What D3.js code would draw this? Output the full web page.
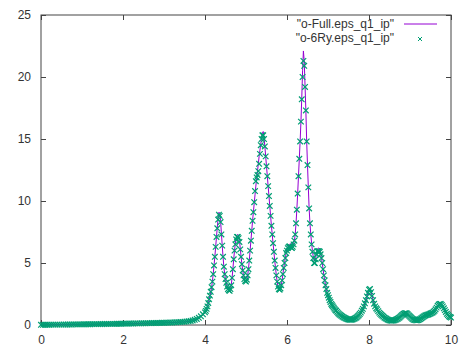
<!DOCTYPE html>
<html lang="en">
<head>
	<meta charset="UTF-8">
	<title>eps_q1_ip</title>
	<script src="https://cdn.jsdelivr.net/npm/d3@7"></script>
	<style>
		html, body{
			margin: 0;
			padding: 0;
			background: #fff;
		}
		svg{
			display: block;
		}
		.axis text, .legend text{
			font-family: "Liberation Sans", Arial, sans-serif;
			font-size: 12px;
			fill: #333;
		}
	</style>
</head>
<body>
	<div class="plot"></div>
	<script>
		// x grids: 0..3.95 step .05, 4.00..7.18 step .02, 7.200..10 step .025
		var grids = [
			{ start: 0, step: 0.05 },
			{ start: 4, step: 0.02 },
			{ start: 7.2, step: 0.025 }
		];

		var fullLow = [
			0.01,0.01,0.01,0.02,0.02,0.02,0.02,0.02,0.03,0.03,0.03,0.03,0.03,0.03,0.04,0.04,0.04,0.04,0.04,0.05,
			0.05,0.05,0.05,0.06,0.06,0.06,0.06,0.07,0.07,0.07,0.07,0.08,0.08,0.08,0.08,0.09,0.09,0.09,0.09,0.10,
			0.10,0.10,0.11,0.11,0.11,0.12,0.12,0.12,0.13,0.13,0.13,0.14,0.14,0.14,0.15,0.15,0.16,0.16,0.17,0.17,
			0.18,0.18,0.19,0.19,0.20,0.20,0.21,0.22,0.23,0.24,0.25,0.27,0.29,0.32,0.36,0.41,0.48,0.57,0.69,0.85
		];
		var fullMid = [
			1.00,1.12,1.28,1.48,1.75,2.05,2.35,2.65,3.0,3.5,
			4.1,4.8,5.5,6.3,7.1,7.9,8.6,9.1,9.0,8.4,
			7.4,6.4,5.5,4.7,4.1,3.7,3.4,3.1,2.9,2.75,
			2.7,2.85,3.2,3.8,4.5,5.3,6.0,6.6,7.0,7.25,
			7.3,7.2,6.8,6.2,5.5,4.9,4.4,4.0,3.7,3.5,
			3.5,3.65,4.0,4.5,5.2,6.0,6.8,7.6,8.4,9.1,
			9.8,10.5,11.2,11.8,12.4,13.0,13.6,14.1,14.6,15.1,
			15.5,15.6,15.1,14.4,13.6,12.8,12.0,11.2,10.4,9.6,
			8.8,8.0,7.3,6.6,5.9,5.2,4.6,4.0,3.5,3.1,
			2.9,2.85,2.95,3.2,3.6,4.1,4.6,5.0,5.4,5.8,
			6.1,6.3,6.45,6.5,6.55,6.5,6.45,6.5,6.6,6.8,
			7.3,8.2,9.3,10.6,12.0,13.4,14.8,16.4,18.3,20.5,
			22.1,21.3,19.3,17.3,14.8,12.9,11.1,9.4,8.2,7.3,
			6.6,6.0,5.5,5.2,5.2,5.4,5.8,6.05,6.2,6.2,
			6.1,5.8,5.4,5.0,4.5,4.0,3.6,3.2,2.9,2.6,
			2.4,2.2,2.0,1.85,1.7,1.6,1.5,1.4,1.3,1.2
		];
		var fullHigh = [
			1.15,1.05,0.95,0.87,0.8,0.74,0.68,0.63,0.58,0.54,0.5,0.47,0.45,0.43,0.42,0.43,
			0.45,0.48,0.52,0.57,0.62,0.7,0.78,0.88,1.0,1.15,1.3,1.5,1.75,2.0,2.3,2.6,
			2.9,2.95,2.7,2.35,2.0,1.72,1.5,1.35,1.25,1.12,1.0,0.9,0.82,0.75,0.68,0.6,0.55,0.5,
			0.45,0.41,0.38,0.36,0.35,0.36,0.37,0.39,0.42,0.46,0.5,0.56,0.62,0.7,0.78,0.85,0.92,0.96,0.98,0.93,
			0.85,0.76,0.68,0.6,0.52,0.46,0.42,0.4,0.38,0.38,0.4,0.44,0.48,0.54,0.6,0.66,0.72,0.77,0.8,0.82,
			0.85,0.88,0.92,0.96,1.0,1.07,1.15,1.27,1.4,1.55,1.7,1.76,1.75,1.65,1.5,1.35,1.2,1.05,0.9,0.8,
			0.7,0.65,0.6
		];

		var ryLow = [
			0.02,0.02,0.02,0.02,0.02,0.03,0.03,0.03,0.03,0.03,0.03,0.04,0.04,0.04,0.04,0.04,0.05,0.05,0.05,0.05,
			0.05,0.06,0.06,0.06,0.06,0.07,0.07,0.07,0.07,0.08,0.08,0.08,0.08,0.09,0.09,0.09,0.09,0.10,0.10,0.10,
			0.11,0.11,0.11,0.12,0.12,0.12,0.13,0.13,0.13,0.14,0.14,0.14,0.15,0.15,0.16,0.16,0.16,0.17,0.17,0.18,
			0.18,0.19,0.19,0.20,0.20,0.21,0.22,0.23,0.24,0.25,0.26,0.28,0.30,0.33,0.37,0.42,0.49,0.58,0.70,0.86
		];
		var ryMid = [
			1.02,1.14,1.30,1.50,1.77,2.07,2.37,2.68,3.05,3.5,
			4.1,4.8,5.5,6.3,7.1,7.8,8.5,8.9,8.8,8.3,
			7.3,6.4,5.5,4.7,4.1,3.7,3.4,3.1,2.9,2.8,
			2.75,2.9,3.2,3.8,4.5,5.3,6.0,6.5,6.9,7.1,
			7.1,7.0,6.7,6.1,5.5,4.9,4.4,4.0,3.7,3.55,
			3.5,3.65,4.0,4.5,5.2,6.0,6.8,7.6,8.4,9.1,
			9.9,10.8,11.6,11.9,12.1,12.4,13.0,13.8,14.5,15.0,
			15.3,15.3,15.0,14.4,13.6,12.8,12.0,11.2,10.4,9.6,
			8.8,8.0,7.3,6.6,5.9,5.2,4.6,4.0,3.5,3.1,
			2.9,2.85,2.95,3.2,3.6,4.1,4.6,5.0,5.4,5.8,
			6.0,6.2,6.3,6.35,6.3,6.25,6.2,6.3,6.5,6.8,
			7.3,8.2,9.3,10.6,12.0,13.4,14.8,16.4,18.2,20.0,
			21.3,20.9,19.2,17.3,14.8,12.9,11.1,9.4,8.2,7.3,
			6.5,5.9,5.4,5.0,5.0,5.3,5.7,5.95,5.95,5.95,
			5.9,5.7,5.4,5.0,4.5,4.0,3.6,3.2,2.9,2.6,
			2.4,2.2,2.0,1.85,1.7,1.6,1.5,1.4,1.3,1.2
		];
		var ryHigh = [
			1.15,1.05,0.95,0.87,0.8,0.74,0.68,0.63,0.58,0.54,0.5,0.47,0.45,0.43,0.42,0.43,
			0.45,0.48,0.52,0.57,0.62,0.7,0.78,0.88,1.0,1.15,1.3,1.5,1.75,2.0,2.3,2.6,
			2.85,2.9,2.65,2.35,2.0,1.72,1.5,1.35,1.25,1.12,1.0,0.9,0.82,0.75,0.68,0.6,0.55,0.5,
			0.45,0.41,0.38,0.36,0.35,0.36,0.37,0.39,0.42,0.46,0.5,0.56,0.62,0.7,0.78,0.85,0.9,0.94,0.95,0.92,
			0.85,0.76,0.68,0.6,0.52,0.46,0.42,0.4,0.38,0.38,0.4,0.44,0.48,0.54,0.6,0.66,0.72,0.77,0.8,0.82,
			0.85,0.88,0.92,0.96,1.0,1.07,1.15,1.27,1.4,1.55,1.65,1.7,1.7,1.62,1.5,1.35,1.2,1.05,0.9,0.8,
			0.7,0.65,0.6
		];

		var xTicks = [0, 2, 4, 6, 8, 10];
		var yTicks = [0, 5, 10, 15, 20, 25];
		var seriesNames = ['"o-Full.eps_q1_ip"', '"o-6Ry.eps_q1_ip"'];

		function toPoints(parts){
			var out = [];
			parts.forEach(function(vals, k){
				vals.forEach(function(v, i){
					out.push({ x: grids[k].start + i * grids[k].step, y: v });
				});
			});
			return out;
		}

		var fullData = toPoints([fullLow, fullMid, fullHigh]);
		var ryData = toPoints([ryLow, ryMid, ryHigh]);

		var width = 474;
		var height = 355;
		var padding = { top: 15, right: 23, bottom: 30, left: 41 };

		var xScale = d3.scaleLinear()
						.domain([0, 10])
						.range([padding.left, width - padding.right]);
		var yScale = d3.scaleLinear()
						.domain([0, 25])
						.range([height - padding.bottom, padding.top]);

		var svg = d3.select('.plot')
					.append('svg')
					.attr('width', width)
					.attr('height', height);

		var lineColor = '#9400d3';
		var pointColor = '#009e73';

		// axes, ticks pointing inward like gnuplot
		svg.append('g')
			.attr('class', 'axis')
			.attr('transform', 'translate(0,' + (height - padding.bottom) + ')')
			.call(d3.axisBottom(xScale).tickValues(xTicks).tickSize(-5).tickSizeOuter(0).tickPadding(10));
		svg.append('g')
			.attr('class', 'axis')
			.attr('transform', 'translate(' + padding.left + ',0)')
			.call(d3.axisLeft(yScale).tickValues(yTicks).tickSize(-5).tickSizeOuter(0).tickPadding(10));
		svg.append('g')
			.attr('class', 'axis')
			.attr('transform', 'translate(0,' + padding.top + ')')
			.call(d3.axisTop(xScale).tickValues(xTicks).tickSize(-5).tickSizeOuter(0).tickFormat(''));
		svg.append('g')
			.attr('class', 'axis')
			.attr('transform', 'translate(' + (width - padding.right) + ',0)')
			.call(d3.axisRight(yScale).tickValues(yTicks).tickSize(-5).tickSizeOuter(0).tickFormat(''));

		svg.selectAll('.axis .domain').remove();
		svg.selectAll('.axis line').attr('stroke', '#444');

		svg.append('rect')
			.attr('x', padding.left)
			.attr('y', padding.top)
			.attr('width', width - padding.left - padding.right)
			.attr('height', height - padding.top - padding.bottom)
			.attr('fill', 'none')
			.attr('stroke', '#444')
			.attr('stroke-width', 1);

		var linePath = d3.line()
						.x(function(d){ return xScale(d.x); })
						.y(function(d){ return yScale(d.y); });

		svg.append('path')
			.attr('d', linePath(fullData))
			.attr('fill', 'none')
			.attr('stroke', lineColor)
			.attr('stroke-width', 1);

		var cross = 'M-2.8,-2.8L2.8,2.8M-2.8,2.8L2.8,-2.8';

		svg.append('g')
			.selectAll('path')
			.data(ryData)
			.enter()
			.append('path')
			.attr('d', cross)
			.attr('transform', function(d){
				return 'translate(' + xScale(d.x) + ',' + yScale(d.y) + ')';
			})
			.attr('fill', 'none')
			.attr('stroke', pointColor)
			.attr('stroke-width', 1.2);

		// legend
		var legend = svg.append('g').attr('class', 'legend');
		legend.append('text')
			.attr('x', 394)
			.attr('y', 24)
			.attr('dy', '0.35em')
			.attr('text-anchor', 'end')
			.text(seriesNames[0]);
		legend.append('line')
			.attr('x1', 404)
			.attr('x2', 437)
			.attr('y1', 24)
			.attr('y2', 24)
			.attr('stroke', lineColor)
			.attr('stroke-width', 1);
		legend.append('text')
			.attr('x', 394)
			.attr('y', 38)
			.attr('dy', '0.35em')
			.attr('text-anchor', 'end')
			.text(seriesNames[1]);
		legend.append('path')
			.attr('d', 'M-2,-2L2,2M-2,2L2,-2')
			.attr('transform', 'translate(420,39)')
			.attr('fill', 'none')
			.attr('stroke', pointColor)
			.attr('stroke-width', 1);
	</script>
</body>
</html>
